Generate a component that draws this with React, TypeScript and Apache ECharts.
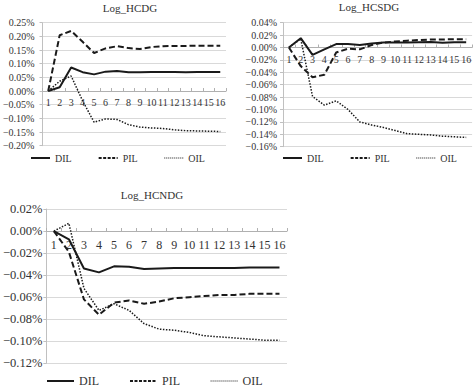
import React, { useEffect, useRef } from "react";
import * as echarts from "echarts";

const periods = ["1", "2", "3", "4", "5", "6", "7", "8", "9", "10", "11", "12", "13", "14", "15", "16"];
const seriesNames = ["DIL", "PIL", "OIL"];
const titles = ["Log_HCDG", "Log_HCSDG", "Log_HCNDG"];

// values in percent
const hcdgDIL = [0, 0.014, 0.086, 0.069, 0.061, 0.071, 0.073, 0.069, 0.069, 0.07, 0.07, 0.07, 0.069, 0.07, 0.07, 0.07];
const hcdgPIL = [0, 0.204, 0.22, 0.18, 0.139, 0.156, 0.164, 0.157, 0.154, 0.161, 0.164, 0.165, 0.165, 0.166, 0.166, 0.166];
const hcdgOIL = [0, 0.036, 0.055, -0.036, -0.114, -0.102, -0.104, -0.123, -0.132, -0.135, -0.137, -0.142, -0.145, -0.146, -0.147, -0.148];

const hcsdgDIL = [0, 0.015, -0.012, -0.003, 0.0055, 0.0055, 0.004, 0.0065, 0.008, 0.008, 0.008, 0.0085, 0.009, 0.0078, 0.0085, 0.0085];
const hcsdgPIL = [0, -0.03, -0.048, -0.044, -0.008, -0.002, -0.003, 0.004, 0.008, 0.0097, 0.011, 0.012, 0.013, 0.013, 0.0135, 0.0135];
const hcsdgOIL = [0, 0.014, -0.079, -0.093, -0.086, -0.1, -0.12, -0.125, -0.129, -0.134, -0.139, -0.14, -0.141, -0.143, -0.144, -0.145];

const hcndgDIL = [0, -0.0075, -0.034, -0.0375, -0.032, -0.0325, -0.0345, -0.034, -0.0335, -0.0335, -0.0335, -0.0335, -0.0335, -0.033, -0.033, -0.033];
const hcndgPIL = [0, -0.019, -0.062, -0.076, -0.065, -0.063, -0.066, -0.064, -0.061, -0.06, -0.059, -0.058, -0.058, -0.057, -0.057, -0.057];
const hcndgOIL = [0, 0.007, -0.052, -0.072, -0.066, -0.072, -0.084, -0.089, -0.09, -0.092, -0.095, -0.096, -0.097, -0.098, -0.099, -0.099];

const FONT = '"Liberation Serif", "Times New Roman", serif';
const TEXT = "#333333";

const fmt = (v: number) => {
  const s = Math.abs(v).toFixed(2) + "%";
  return v < -1e-9 ? "\u2212" + s : s;
};

export default function App() {
  const ref = useRef<HTMLDivElement>(null);
  useEffect(() => {
    if (!ref.current) return;
    const chart = echarts.init(ref.current, null, { renderer: "svg" });

    const grids = [
      { left: 37, top: 22.7, width: 189, height: 123 },
      { left: 283, top: 22.7, width: 195, height: 124 },
      { left: 46, top: 209, width: 241, height: 154.3 },
    ];
    const yCfg = [
      { min: -0.2, max: 0.25, interval: 0.05, fs: 10, margin: 8 },
      { min: -0.16, max: 0.04, interval: 0.02, fs: 10, margin: 6 },
      { min: -0.12, max: 0.02, interval: 0.02, fs: 12.5, margin: 4 },
    ];
    const xCfg = [
      { fs: 10, margin: 6 },
      { fs: 10, margin: 7 },
      { fs: 12, margin: 8 },
    ];
    const data = [
      [hcdgDIL, hcdgPIL, hcdgOIL],
      [hcsdgDIL, hcsdgPIL, hcsdgOIL],
      [hcndgDIL, hcndgPIL, hcndgOIL],
    ];
    const styles = [
      { type: "solid", width: 2 },
      { type: [6, 3], width: 2 },
      { type: [1.5, 1.5], width: 1.5 },
    ];
    const legendLine = [
      { color: "#1a1a1a", type: "solid", width: 2 },
      { color: "#1a1a1a", type: [3, 1.5], width: 2 },
      { color: "#1a1a1a", type: [1, 1], width: 1.2 },
    ];

    const series: any[] = [];
    data.forEach((set, gi) => {
      set.forEach((vals, si) => {
        series.push({
          type: "line",
          name: seriesNames[si],
          xAxisIndex: gi,
          yAxisIndex: gi,
          data: vals,
          symbol: "none",
          lineStyle: { color: "#1a1a1a", width: styles[si].width, type: styles[si].type },
          itemStyle: { color: "#1a1a1a" },
          z: 3 - si,
        });
      });
    });

    const legendCfg = [
      { left: 30, top: 153, itemWidth: 19, itemGap: 26, fs: 10 },
      { left: 282, top: 153, itemWidth: 19, itemGap: 26, fs: 10 },
      { left: 46, top: 375, itemWidth: 27, itemGap: 30, fs: 12 },
    ];

    chart.setOption({
      animation: false,
      backgroundColor: "#ffffff",
      grid: grids.map((g) => ({ ...g, containLabel: false })),
      xAxis: grids.map((g, i) => {
        const c = yCfg[i];
        const zeroOffset = (g.height * (0 - c.min)) / (c.max - c.min);
        return {
          type: "category",
          gridIndex: i,
          data: periods,
          boundaryGap: true,
          position: "bottom",
          offset: -zeroOffset,
          axisLine: { onZero: false, lineStyle: { color: "#b0b0b0", width: 1 } },
          axisTick: { show: true, inside: true, length: 3, lineStyle: { color: "#b0b0b0" } },
          axisLabel: {
            interval: 0,
            hideOverlap: false,
            color: TEXT,
            fontFamily: FONT,
            fontSize: xCfg[i].fs,
            margin: xCfg[i].margin,
          },
          splitLine: { show: false },
        };
      }),
      yAxis: yCfg.map((c, i) => ({
        type: "value",
        gridIndex: i,
        min: c.min,
        max: c.max,
        interval: c.interval,
        axisLine: { show: true, lineStyle: { color: "#c0c0c0" } },
        axisTick: { show: true, length: 3, lineStyle: { color: "#c0c0c0" } },
        axisLabel: {
          formatter: fmt,
          color: TEXT,
          fontFamily: FONT,
          fontSize: c.fs,
          margin: c.margin,
        },
        splitLine: { show: true, lineStyle: { color: "#d9d9d9", width: 1 } },
      })),
      legend: legendCfg.map((l) => ({
        data: seriesNames.map((n, k) => ({ name: n, lineStyle: legendLine[k] })),
        left: l.left,
        top: l.top,
        padding: 0,
        itemWidth: l.itemWidth,
        itemHeight: 10,
        itemGap: l.itemGap,
        selectedMode: false,
        itemStyle: { opacity: 0 },
        textStyle: { color: TEXT, fontFamily: FONT, fontSize: l.fs },
      })),
      graphic: [
        { type: "text", x: 130, y: 8, style: { text: titles[0], fill: TEXT, font: `11px ${FONT}`, textAlign: "center", textVerticalAlign: "middle" } },
        { type: "text", x: 369, y: 7, style: { text: titles[1], fill: TEXT, font: `11px ${FONT}`, textAlign: "center", textVerticalAlign: "middle" } },
        { type: "text", x: 152, y: 195, style: { text: titles[2], fill: TEXT, font: `11px ${FONT}`, textAlign: "center", textVerticalAlign: "middle" } },
      ],
      series,
    });
    return () => chart.dispose();
  }, []);
  return (
    <div
      ref={ref}
      style={{ position: "absolute", left: 0, top: 0, width: 474, height: 388, overflow: "hidden", background: "#fff" }}
    />
  );
}
